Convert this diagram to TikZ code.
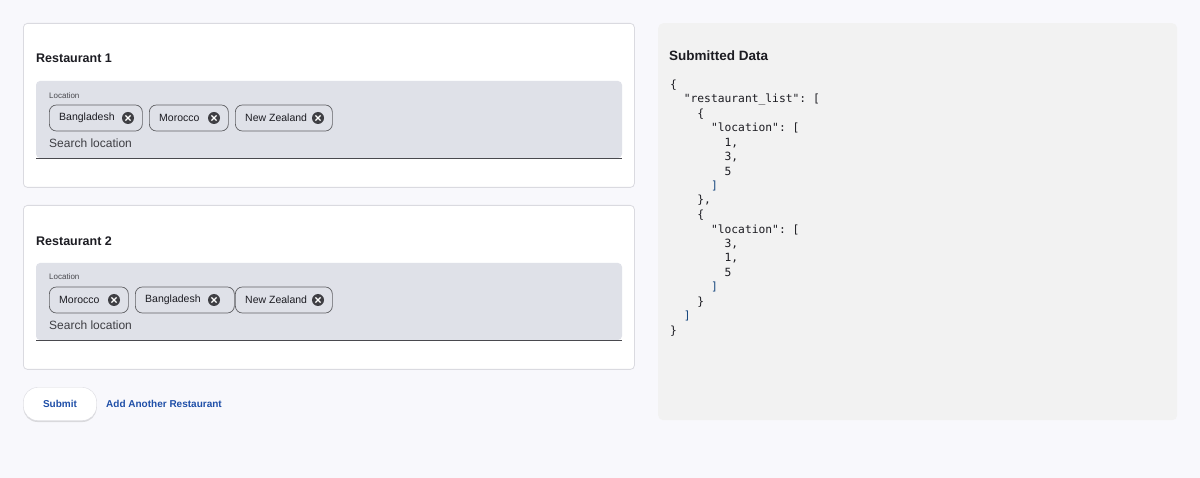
\documentclass[tikz,border=0pt]{standalone}
\usepackage{fontspec}
\setmainfont{Liberation Sans}
\setmonofont{DejaVu Sans Mono}
\usetikzlibrary{shadows}
\definecolor{bg}{HTML}{F8F8FC}
\definecolor{field}{HTML}{DFE1E8}
\definecolor{panel}{HTML}{F2F2F2}
\definecolor{bord}{HTML}{DADAE0}
\definecolor{ink}{HTML}{1C1C22}
\definecolor{blu}{HTML}{1F4FA8}
\definecolor{brk}{HTML}{1A4A80}
\begin{document}
\begin{tikzpicture}[x=1pt,y=-1pt,
  card/.style={draw=bord,fill=white,rounded corners=4pt,line width=0.8pt},
  title/.style={anchor=west,font=\fontsize{12.5}{14}\selectfont\bfseries,text=ink,inner sep=0},
  lab/.style={anchor=west,font=\fontsize{8}{9}\selectfont,text=ink!80,inner sep=0},
  srch/.style={anchor=west,font=\fontsize{12}{14}\selectfont,text=ink!85,inner sep=0},
  chip/.style={draw=ink!70,rounded corners=7pt,line width=0.7pt,minimum height=26pt,anchor=west,inner sep=0pt},
  ct/.style={anchor=west,inner sep=0,font=\fontsize{10.5}{13}\selectfont,text=ink},
  xic/.style={circle,fill=ink!85,minimum size=12pt,inner sep=0},
  js/.style={anchor=west,font=\fontsize{11.3}{13}\selectfont\ttfamily,text=ink,inner sep=0},
]
\useasboundingbox (0,0) rectangle (1200,478);
\fill[bg] (0,0) rectangle (1200,478);

% card 1
\node[card,minimum width=611pt,minimum height=164pt,anchor=north west] (c1) at (23,23) {};
\node[title] (t1) at (36,58) {Restaurant 1};
\fill[field,rounded corners=4pt] (36,158) |- (622,81) -- (622,158) -- cycle;
\draw[ink!80,line width=0.9pt] (36,158) -- (622,158);
\node[lab] (l1) at (49,96) {Location};
\node[chip,minimum width=93pt] (a1) at (49,118) {};
\node[chip,minimum width=79pt] (a2) at (149,118) {};
\node[chip,minimum width=97pt] (a3) at (235,118) {};
\node[ct] (b1) at (59,118) {Bangladesh};
\node[ct] (b2) at (159,118) {Morocco};
\node[ct] (b3) at (245,118) {New Zealand};
\node[xic] (x1) at (128,118) {}; \node[xic] (x2) at (214,118) {}; \node[xic] (x3) at (318,118) {};
\node[srch] (s1) at (49,143) {Search location};

% card 2
\node[card,minimum width=611pt,minimum height=164pt,anchor=north west] (c2) at (23,205) {};
\node[title] (t2) at (36,241) {Restaurant 2};
\fill[field,rounded corners=4pt] (36,340) |- (622,263) -- (622,340) -- cycle;
\draw[ink!80,line width=0.9pt] (36,340) -- (622,340);
\node[lab] (l2) at (49,277) {Location};
\node[chip,minimum width=79pt] (d1) at (49,300) {};
\node[chip,minimum width=99pt] (d2) at (135,300) {};
\node[chip,minimum width=97pt] (d3) at (235,300) {};
\node[ct] (e1) at (59,300) {Morocco};
\node[ct] (e2) at (145,300) {Bangladesh};
\node[ct] (e3) at (245,300) {New Zealand};
\node[xic] (y1) at (114,300) {}; \node[xic] (y2) at (214,300) {}; \node[xic] (y3) at (318,300) {};
\node[srch] (s2) at (49,325) {Search location};

\foreach \n in {x1,x2,x3,y1,y2,y3}{
  \draw[white,line width=1.3pt] ([shift={(-2.6,-2.6)}]\n.center) -- ([shift={(2.6,2.6)}]\n.center)
    ([shift={(-2.6,2.6)}]\n.center) -- ([shift={(2.6,-2.6)}]\n.center);
}

% buttons
\node[draw=bord,fill=white,rounded corners=14pt,minimum width=73pt,minimum height=33pt,drop shadow={opacity=0.25,shadow xshift=0pt,shadow yshift=-1.5pt},font=\fontsize{10}{12}\selectfont\bfseries,text=blu] (sub) at (60,404) {Submit};
\node[anchor=west,inner sep=0,font=\fontsize{10}{12}\selectfont\bfseries,text=blu] (add) at (106,404) {Add Another Restaurant};

% right panel
\node[fill=panel,rounded corners=5pt,minimum width=519pt,minimum height=397pt,anchor=north west] (p) at (658,23) {};
\node[title,font=\fontsize{13.5}{15}\selectfont\bfseries] (st) at (669,56) {Submitted Data};
\def\L{14.45}
\node[js] (j0) at (670,85) {\{};
\node[js] (j1) at (670,85+\L) {\ \ "restaurant\_list": [};
\node[js] (j2) at (670,85+2*\L) {\ \ \ \ \{};
\node[js] (j3) at (670,85+3*\L) {\ \ \ \ \ \ "location": [};
\node[js] (j4) at (670,85+4*\L) {\ \ \ \ \ \ \ \ 1,};
\node[js] (j5) at (670,85+5*\L) {\ \ \ \ \ \ \ \ 3,};
\node[js] (j6) at (670,85+6*\L) {\ \ \ \ \ \ \ \ 5};
\node[js] (j7) at (670,85+7*\L) {\ \ \ \ \ \ \textcolor{brk}{]}};
\node[js] (j8) at (670,85+8*\L) {\ \ \ \ \},};
\node[js] (j9) at (670,85+9*\L) {\ \ \ \ \{};
\node[js] (j10) at (670,85+10*\L) {\ \ \ \ \ \ "location": [};
\node[js] (j11) at (670,85+11*\L) {\ \ \ \ \ \ \ \ 3,};
\node[js] (j12) at (670,85+12*\L) {\ \ \ \ \ \ \ \ 1,};
\node[js] (j13) at (670,85+13*\L) {\ \ \ \ \ \ \ \ 5};
\node[js] (j14) at (670,85+14*\L) {\ \ \ \ \ \ \textcolor{brk}{]}};
\node[js] (j15) at (670,85+15*\L) {\ \ \ \ \}};
\node[js] (j16) at (670,85+16*\L) {\ \ \textcolor{brk}{]}};
\node[js] (j17) at (670,85+17*\L) {\}};
\end{tikzpicture}
\end{document}
